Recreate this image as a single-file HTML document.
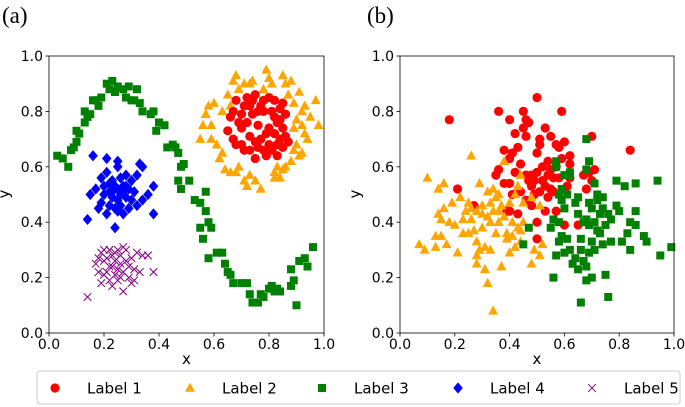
<!DOCTYPE html>
<html><head><meta charset="utf-8">
<style>
html,body{margin:0;padding:0;background:#fff;}
svg{display:block;font-family:"DejaVu Sans","Liberation Sans",sans-serif;}
</style></head>
<body>
<svg id="chart" width="685" height="407" viewBox="0 0 685 407" xmlns="http://www.w3.org/2000/svg">
<rect width="685" height="407" fill="#fff"/>
<g id="panelA"></g>
<g id="panelB"></g>
<text x="2" y="23" font-family="Liberation Serif,serif" font-size="23">(a)</text>
<text x="367" y="23" font-family="Liberation Serif,serif" font-size="23">(b)</text>
<g id="legend"></g>
</svg>
<script>
const tickValues=[0,0.2,0.4,0.6,0.8,1.0];
const tickLabels=["0.0","0.2","0.4","0.6","0.8","1.0"];
const seriesNames=["Label 1","Label 2","Label 3","Label 4","Label 5"];
const seriesColors=["#ff0000","#ffa500","#008000","#0000ff","#800080"];
const seriesMarkers=["circle","triangle","square","diamond","x"];

// Panel (a) data
const aRed=[[0.65,0.73],[0.66,0.78],[0.67,0.70],[0.67,0.80],[0.68,0.68],[0.68,0.84],[0.69,0.76],[0.70,0.74],[0.70,0.68],[0.71,0.82],[0.71,0.66],[0.72,0.85],[0.72,0.76],[0.73,0.82],[0.73,0.66],[0.74,0.84],[0.74,0.79],[0.75,0.86],[0.75,0.63],[0.76,0.67],[0.76,0.75],[0.77,0.82],[0.77,0.70],[0.78,0.84],[0.78,0.66],[0.79,0.64],[0.79,0.72],[0.80,0.85],[0.80,0.68],[0.81,0.80],[0.81,0.66],[0.82,0.84],[0.82,0.72],[0.83,0.76],[0.83,0.64],[0.84,0.81],[0.84,0.70],[0.85,0.74],[0.85,0.67],[0.86,0.79],[0.86,0.71],[0.85,0.83],[0.84,0.77],[0.82,0.78],[0.80,0.74],[0.78,0.80],[0.76,0.80],[0.73,0.71],[0.70,0.79],[0.75,0.69],[0.87,0.69],[0.83,0.68]];
const aOrange=[[0.55,0.70],[0.57,0.79],[0.56,0.75],[0.58,0.82],[0.59,0.75],[0.59,0.70],[0.60,0.83],[0.61,0.68],[0.62,0.63],[0.63,0.65],[0.63,0.80],[0.65,0.86],[0.64,0.59],[0.66,0.82],[0.66,0.58],[0.67,0.91],[0.68,0.93],[0.68,0.58],[0.69,0.60],[0.69,0.88],[0.71,0.90],[0.71,0.55],[0.72,0.53],[0.73,0.57],[0.73,0.90],[0.74,0.91],[0.75,0.55],[0.77,0.52],[0.78,0.88],[0.79,0.95],[0.80,0.92],[0.81,0.90],[0.82,0.58],[0.82,0.56],[0.83,0.60],[0.84,0.56],[0.85,0.93],[0.85,0.59],[0.86,0.90],[0.86,0.60],[0.87,0.86],[0.88,0.91],[0.88,0.62],[0.89,0.83],[0.89,0.66],[0.90,0.77],[0.90,0.68],[0.91,0.64],[0.91,0.87],[0.92,0.80],[0.92,0.75],[0.93,0.82],[0.93,0.72],[0.94,0.70],[0.95,0.78],[0.97,0.84],[0.98,0.75],[0.89,0.74],[0.92,0.65]];
const aGreen=[[0.03,0.64],[0.05,0.63],[0.07,0.60],[0.08,0.66],[0.09,0.67],[0.10,0.69],[0.10,0.73],[0.11,0.72],[0.13,0.76],[0.13,0.80],[0.14,0.78],[0.15,0.79],[0.17,0.84],[0.16,0.84],[0.18,0.82],[0.19,0.85],[0.21,0.90],[0.22,0.88],[0.23,0.91],[0.24,0.87],[0.25,0.89],[0.27,0.88],[0.28,0.85],[0.29,0.89],[0.30,0.84],[0.32,0.88],[0.31,0.84],[0.33,0.83],[0.34,0.80],[0.37,0.79],[0.38,0.80],[0.39,0.73],[0.40,0.76],[0.42,0.75],[0.43,0.67],[0.45,0.68],[0.46,0.67],[0.47,0.65],[0.48,0.60],[0.49,0.61],[0.47,0.55],[0.48,0.52],[0.51,0.55],[0.53,0.48],[0.55,0.47],[0.57,0.51],[0.57,0.44],[0.58,0.40],[0.59,0.38],[0.55,0.38],[0.56,0.34],[0.58,0.27],[0.61,0.29],[0.63,0.29],[0.64,0.25],[0.65,0.22],[0.66,0.21],[0.67,0.18],[0.70,0.18],[0.72,0.18],[0.73,0.14],[0.74,0.11],[0.76,0.11],[0.77,0.14],[0.78,0.13],[0.80,0.16],[0.81,0.17],[0.82,0.15],[0.83,0.16],[0.84,0.15],[0.88,0.23],[0.88,0.17],[0.89,0.19],[0.90,0.10],[0.91,0.26],[0.93,0.27],[0.94,0.24],[0.96,0.31]];
const aBlue=[[0.16,0.64],[0.21,0.63],[0.25,0.62],[0.25,0.60],[0.14,0.41],[0.15,0.50],[0.17,0.52],[0.19,0.56],[0.19,0.47],[0.20,0.53],[0.21,0.43],[0.21,0.58],[0.22,0.51],[0.22,0.46],[0.23,0.55],[0.23,0.49],[0.24,0.53],[0.24,0.45],[0.24,0.38],[0.25,0.48],[0.25,0.52],[0.26,0.56],[0.26,0.46],[0.26,0.50],[0.27,0.53],[0.27,0.43],[0.28,0.57],[0.28,0.49],[0.29,0.52],[0.29,0.45],[0.30,0.55],[0.30,0.48],[0.31,0.51],[0.32,0.57],[0.32,0.46],[0.33,0.61],[0.34,0.60],[0.34,0.48],[0.36,0.50],[0.38,0.53],[0.38,0.43],[0.20,0.50],[0.27,0.51],[0.23,0.51],[0.28,0.53],[0.22,0.54],[0.25,0.44],[0.18,0.45]];
const aPurple=[[0.14,0.13],[0.17,0.25],[0.18,0.22],[0.19,0.29],[0.19,0.18],[0.20,0.26],[0.20,0.30],[0.21,0.22],[0.21,0.27],[0.22,0.19],[0.22,0.30],[0.23,0.24],[0.23,0.28],[0.23,0.17],[0.24,0.21],[0.24,0.26],[0.25,0.23],[0.25,0.30],[0.25,0.19],[0.26,0.25],[0.26,0.28],[0.27,0.22],[0.27,0.15],[0.28,0.26],[0.28,0.30],[0.29,0.20],[0.29,0.24],[0.30,0.27],[0.30,0.18],[0.31,0.23],[0.32,0.29],[0.33,0.22],[0.34,0.28],[0.36,0.28],[0.38,0.22],[0.20,0.21],[0.26,0.20],[0.24,0.29],[0.22,0.24],[0.18,0.27],[0.27,0.31],[0.31,0.19]];

// Panel (b) data
const bRed=[[0.18,0.77],[0.21,0.52],[0.27,0.46],[0.36,0.80],[0.35,0.57],[0.36,0.59],[0.38,0.54],[0.38,0.66],[0.39,0.44],[0.40,0.77],[0.40,0.63],[0.40,0.54],[0.40,0.44],[0.41,0.50],[0.41,0.65],[0.42,0.72],[0.42,0.58],[0.43,0.43],[0.43,0.67],[0.44,0.51],[0.44,0.61],[0.45,0.74],[0.45,0.80],[0.46,0.77],[0.46,0.71],[0.46,0.57],[0.46,0.48],[0.47,0.55],[0.47,0.76],[0.48,0.57],[0.48,0.46],[0.48,0.53],[0.49,0.50],[0.49,0.55],[0.50,0.58],[0.50,0.85],[0.50,0.65],[0.50,0.40],[0.50,0.34],[0.51,0.70],[0.51,0.68],[0.51,0.51],[0.52,0.60],[0.52,0.55],[0.53,0.74],[0.53,0.44],[0.53,0.53],[0.54,0.57],[0.54,0.62],[0.54,0.49],[0.55,0.52],[0.55,0.71],[0.56,0.56],[0.56,0.51],[0.57,0.68],[0.57,0.44],[0.58,0.67],[0.59,0.80],[0.59,0.63],[0.60,0.69],[0.60,0.39],[0.61,0.53],[0.62,0.56],[0.62,0.61],[0.62,0.64],[0.65,0.39],[0.67,0.57],[0.68,0.52],[0.69,0.58],[0.70,0.71],[0.70,0.55],[0.71,0.59],[0.84,0.66],[0.57,0.60],[0.58,0.56],[0.55,0.59]];
const bOrange=[[0.07,0.32],[0.09,0.30],[0.10,0.56],[0.13,0.35],[0.13,0.31],[0.14,0.43],[0.14,0.52],[0.15,0.41],[0.15,0.35],[0.16,0.54],[0.16,0.45],[0.17,0.32],[0.18,0.40],[0.19,0.47],[0.20,0.39],[0.21,0.29],[0.22,0.49],[0.23,0.41],[0.23,0.36],[0.24,0.44],[0.25,0.47],[0.25,0.36],[0.26,0.41],[0.26,0.64],[0.27,0.37],[0.28,0.44],[0.28,0.33],[0.28,0.28],[0.28,0.25],[0.29,0.54],[0.29,0.30],[0.30,0.43],[0.30,0.38],[0.31,0.31],[0.31,0.23],[0.32,0.51],[0.32,0.18],[0.33,0.47],[0.33,0.40],[0.33,0.30],[0.34,0.08],[0.34,0.52],[0.34,0.44],[0.35,0.36],[0.35,0.49],[0.36,0.40],[0.36,0.50],[0.37,0.24],[0.37,0.46],[0.38,0.42],[0.38,0.62],[0.39,0.36],[0.39,0.34],[0.40,0.29],[0.40,0.47],[0.41,0.40],[0.41,0.35],[0.42,0.31],[0.42,0.50],[0.43,0.38],[0.43,0.53],[0.44,0.33],[0.44,0.57],[0.45,0.47],[0.45,0.40],[0.48,0.25],[0.48,0.49],[0.49,0.30],[0.51,0.28],[0.51,0.46],[0.52,0.32],[0.36,0.44],[0.32,0.42],[0.26,0.45],[0.44,0.37],[0.30,0.46]];
const bGreen=[[0.45,0.32],[0.47,0.38],[0.55,0.38],[0.56,0.41],[0.56,0.20],[0.57,0.62],[0.57,0.60],[0.57,0.28],[0.58,0.50],[0.58,0.33],[0.58,0.40],[0.59,0.52],[0.59,0.48],[0.59,0.35],[0.60,0.45],[0.60,0.29],[0.60,0.57],[0.61,0.50],[0.61,0.34],[0.62,0.58],[0.62,0.30],[0.62,0.57],[0.63,0.25],[0.64,0.47],[0.64,0.27],[0.65,0.49],[0.65,0.23],[0.65,0.43],[0.66,0.34],[0.66,0.30],[0.66,0.11],[0.67,0.40],[0.67,0.26],[0.68,0.70],[0.68,0.59],[0.68,0.41],[0.68,0.24],[0.68,0.19],[0.69,0.62],[0.69,0.47],[0.69,0.39],[0.69,0.29],[0.70,0.20],[0.70,0.45],[0.70,0.33],[0.71,0.54],[0.71,0.40],[0.71,0.30],[0.72,0.50],[0.72,0.37],[0.72,0.48],[0.73,0.43],[0.73,0.36],[0.74,0.49],[0.74,0.45],[0.74,0.32],[0.75,0.39],[0.75,0.21],[0.76,0.13],[0.76,0.43],[0.77,0.41],[0.77,0.33],[0.79,0.55],[0.79,0.46],[0.80,0.44],[0.81,0.33],[0.82,0.53],[0.83,0.36],[0.84,0.30],[0.84,0.40],[0.86,0.54],[0.86,0.39],[0.86,0.44],[0.89,0.35],[0.90,0.33],[0.94,0.55],[0.95,0.28],[0.99,0.31]];

const NS="http://www.w3.org/2000/svg";
function mk(tag,attrs,parent){const e=document.createElementNS(NS,tag);for(const k in attrs)e.setAttribute(k,attrs[k]);parent.appendChild(e);return e;}

function drawMarker(g,type,cx,cy,color){
  let e;
  if(type==="circle"){e=mk("circle",{cx:cx,cy:cy,r:4.6,fill:color},g);}
  else if(type==="triangle"){e=mk("polygon",{points:`${cx},${cy-5.4} ${cx-5},${cy+3.8} ${cx+5},${cy+3.8}`,fill:color},g);}
  else if(type==="square"){e=mk("rect",{x:cx-4,y:cy-4,width:8,height:8,fill:color},g);}
  else if(type==="diamond"){e=mk("polygon",{points:`${cx},${cy-5.6} ${cx+4.8},${cy} ${cx},${cy+5.6} ${cx-4.8},${cy}`,fill:color},g);}
  else {e=mk("path",{d:`M${cx-3.8},${cy-3.8}L${cx+3.8},${cy+3.8}M${cx-3.8},${cy+3.8}L${cx+3.8},${cy-3.8}`,stroke:color,"stroke-width":1,fill:"none"},g);}
  return e;
}

function drawPanel(g,x0,x1,series,prefix){
  const y0=333,y1=56;
  const sx=v=>x0+v*(x1-x0), sy=v=>y0+v*(y1-y0);
  series.forEach((s,si)=>{
    const sg=mk("g",{},g);
    
    
    s.data.forEach(p=>{
      const m=drawMarker(sg,seriesMarkers[s.idx],sx(p[0]),sy(p[1]),seriesColors[s.idx]);
      
      
    });
  });
  const frame=mk("rect",{x:x0,y:y1,width:x1-x0,height:y0-y1,fill:"none",stroke:"#000","stroke-width":0.8},g);
  
  
  tickValues.forEach((v,i)=>{
    const X=sx(v),Y=sy(v);
    mk("line",{x1:X,y1:y0,x2:X,y2:y0+3.5,stroke:"#000","stroke-width":0.8},g);
    const tx=mk("text",{x:X,y:y0+16,"font-size":14,"text-anchor":"middle"},g);
    tx.textContent=tickLabels[i];
    
    
    mk("line",{x1:x0-3.5,y1:Y,x2:x0,y2:Y,stroke:"#000","stroke-width":0.8},g);
    const ty=mk("text",{x:x0-6,y:Y+5,"font-size":14,"text-anchor":"end"},g);
    ty.textContent=tickLabels[i];
    
    
  });
  const xl=mk("text",{x:(x0+x1)/2,y:364,"font-size":15,"text-anchor":"middle"},g);
  xl.textContent="x";
  
  
  const yx=x0-40;
  const yl=mk("text",{x:yx,y:194,"font-size":15,"text-anchor":"middle",transform:`rotate(-90 ${yx} 194)`},g);
  yl.textContent="y";
  
  
}

drawPanel(document.getElementById("panelA"),49,324,[
  {idx:2,data:aGreen},{idx:1,data:aOrange},{idx:0,data:aRed},{idx:3,data:aBlue},{idx:4,data:aPurple}],"panel-a");
drawPanel(document.getElementById("panelB"),400,674,[
  {idx:0,data:bRed},{idx:1,data:bOrange},{idx:2,data:bGreen}],"panel-b");

// legend
const lg=document.getElementById("legend");
const box=mk("rect",{x:37,y:371,width:643,height:33,rx:3,fill:"#fff",stroke:"#ccc","stroke-width":1},lg);


const legX=[55,190,322,458,592];
seriesNames.forEach((n,i)=>{
  const eg=mk("g",{},lg);
  
  
  drawMarker(eg,seriesMarkers[i],legX[i],388,seriesColors[i]);
  const t=mk("text",{x:legX[i]+32,y:393.5,"font-size":15},eg);
  t.textContent=n;
});
</script>
</body></html>
